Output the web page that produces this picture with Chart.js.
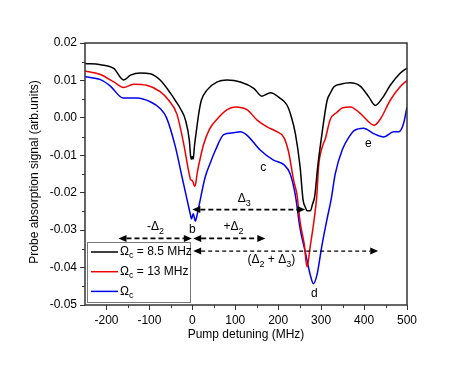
<!DOCTYPE html>
<html><head><meta charset="utf-8">
<script src="https://cdn.jsdelivr.net/npm/chart.js@4/dist/chart.umd.min.js"></script>
<style>html,body{margin:0;padding:0;background:#fff;}canvas{display:block;}</style>
</head><body>
<canvas id="c" width="474" height="366"></canvas>
<script>
// ---- data ----
const blackX = [-250,-214,-183,-160,-144,-121,-98,-75,-51,-40,-28,-16,-7,-4,-2,0,2,5,10,15,21,34,58,81,112,143,162,182,205,220,230,240,251,258,263,267,275,280,285,292,302,314,321,330,345,368,391,411,426,442,461,484,500];
const blackY = [0.0145,0.0142,0.0132,0.0101,0.0114,0.0120,0.0118,0.0101,0.0066,0.0047,0.0025,-0.0006,-0.0060,-0.0102,-0.0110,-0.0103,-0.0110,-0.0075,-0.0030,0.0012,0.0047,0.0074,0.0096,0.0101,0.0096,0.0079,0.0058,0.0067,0.0052,0.0035,0.0005,-0.0042,-0.0131,-0.0220,-0.0238,-0.0248,-0.0248,-0.0230,-0.0210,-0.0131,-0.0042,0.0047,0.0065,0.0083,0.0090,0.0094,0.0085,0.0056,0.0033,0.0052,0.0087,0.0119,0.0133];
const redX = [-250,-214,-183,-160,-137,-106,-75,-55,-36,-20,-9,-4,-1,2,5,8,11,20,26,40,58,81,100,127,151,174,197,213,224,236,244,251,261,267,275,283,290,294,302,310,321,337,350,368,391,415,423,438,461,484,500];
const redY = [0.0125,0.0116,0.0096,0.0081,0.0090,0.0087,0.0070,0.0047,0.0010,-0.0070,-0.0140,-0.0165,-0.0167,-0.0172,-0.0183,-0.0175,-0.0150,-0.0100,-0.0072,-0.0030,-0.0003,0.0022,0.0029,0.0022,-0.0006,-0.0024,-0.0037,-0.0052,-0.0090,-0.0167,-0.0207,-0.0278,-0.0340,-0.0398,-0.0340,-0.0278,-0.0207,-0.0131,-0.0080,-0.0055,-0.0005,0.0015,0.0027,0.0029,0.0012,-0.0015,-0.0020,-0.0003,0.0047,0.0083,0.0100];
const blueX = [-250,-214,-191,-161,-129,-98,-75,-60,-40,-24,-12,-5,-2,2,7,11,15,30,42,54,73,96,112,127,158,189,213,228,240,251,263,275,282,290,302,314,323,333,349,368,376,399,422,446,469,481,492,500];
const blueY = [0.0110,0.0102,0.0085,0.0053,0.0053,0.0043,0.0025,0.0000,-0.0075,-0.0158,-0.0220,-0.0256,-0.0270,-0.0256,-0.0276,-0.0260,-0.0238,-0.0158,-0.0120,-0.0086,-0.0045,-0.0040,-0.0037,-0.0046,-0.0086,-0.0113,-0.0125,-0.0150,-0.0207,-0.0296,-0.0358,-0.0421,-0.0443,-0.0421,-0.0340,-0.0269,-0.0220,-0.0149,-0.0086,-0.0046,-0.0035,-0.0028,-0.0042,-0.0051,-0.0037,-0.0037,-0.0015,0.0029];
const seriesLabels = ['Ω_c = 8.5 MHz','Ω_c = 13 MHz','Ω_c'];
const xTickValues = [-200,-100,0,100,200,300,400,500];
const yTickValues = [0.02,0.01,0,-0.01,-0.02,-0.03,-0.04,-0.05];
const xMinorTicks = [-150,-50,50,150,250,350,450];
const yMinorTicks = [0.015,0.005,-0.005,-0.015,-0.025,-0.035,-0.045];
const xTitle = 'Pump detuning (MHz)';
const yTitle = 'Probe absorption signal (arb.units)';
// annotation arrows (data coordinates)
const arrowFrom = [0,-172,2,2];
const arrowTo = [263,-1,170,433];
const arrowY = [-0.0245,-0.0322,-0.0322,-0.0356];
const arrowText = ['Δ_3','-Δ_2','+Δ_2','(Δ_2 + Δ_3)'];
const arrowTextX = [121,-86,96,184];
const arrowTextY = [-0.0217,-0.0292,-0.0292,-0.0380];
const pointText = ['b','c','d','e'];
const pointTextX = [0,165,284,410];
const pointTextY = [-0.0298,-0.0134,-0.0469,-0.0068];

const FONT = '"Liberation Sans", Arial, sans-serif';
const colors = ['#000000','#ee0000','#0000ee'];

function toPts(xs, ys){ return xs.map((x,i)=>({x:x, y:ys[i]})); }

// rich text: '_' marks next char as subscript
function parseRich(s){
  const parts=[]; let buf='';
  for(let i=0;i<s.length;i++){
    if(s[i]==='_' && i+1<s.length){ if(buf){parts.push([buf,false]);buf='';} parts.push([s[i+1],true]); i++; }
    else buf+=s[i];
  }
  if(buf) parts.push([buf,false]);
  return parts;
}
function richWidth(ctx, parts, size){
  let w=0;
  parts.forEach(p=>{ ctx.font=(p[1]?Math.round(size*0.75):size)+'px '+FONT; w+=ctx.measureText(p[0]).width; });
  return w;
}
function drawRich(ctx, s, x, y, size, align){
  const parts=parseRich(s);
  const w=richWidth(ctx,parts,size);
  let cx = align==='center' ? x-w/2 : x;
  ctx.textBaseline='middle'; ctx.textAlign='left';
  parts.forEach(p=>{
    ctx.font=(p[1]?Math.round(size*0.75):size)+'px '+FONT;
    ctx.fillText(p[0], cx, p[1]? y+4 : y);
    cx+=ctx.measureText(p[0]).width;
  });
}

const annotPlugin = {
  id:'annot',
  afterDraw(chart){
    const ctx=chart.ctx, a=chart.chartArea, xs=chart.scales.x, ys=chart.scales.y;
    ctx.save();
    // frame
    ctx.strokeStyle='#333'; ctx.lineWidth=1.5; ctx.setLineDash([]);
    ctx.strokeRect(a.left,a.top,a.right-a.left,a.bottom-a.top);
    // minor ticks
    ctx.lineWidth=1;
    ctx.beginPath();
    xMinorTicks.forEach(v=>{const p=Math.round(xs.getPixelForValue(v))+0.5; ctx.moveTo(p,a.bottom); ctx.lineTo(p,a.bottom+3);});
    yMinorTicks.forEach(v=>{const p=Math.round(ys.getPixelForValue(v))+0.5; ctx.moveTo(a.left,p); ctx.lineTo(a.left-3,p);});
    ctx.stroke();
    // arrows
    ctx.fillStyle='#000'; ctx.strokeStyle='#000';
    for(let i=0;i<arrowFrom.length;i++){
      const x1=xs.getPixelForValue(Math.min(arrowFrom[i],arrowTo[i]));
      const x2=xs.getPixelForValue(Math.max(arrowFrom[i],arrowTo[i]));
      const py=ys.getPixelForValue(arrowY[i]);
      const thin = i===3;
      const hl=8, hw=3.5;
      ctx.lineWidth = thin?1.1:1.7;
      ctx.setLineDash(thin?[4,3]:[5,3]);
      ctx.beginPath(); ctx.moveTo(x1+hl,py); ctx.lineTo(x2-hl,py); ctx.stroke();
      ctx.setLineDash([]);
      ctx.beginPath(); ctx.moveTo(x1,py); ctx.lineTo(x1+hl,py-hw); ctx.lineTo(x1+hl,py+hw); ctx.closePath(); ctx.fill();
      ctx.beginPath(); ctx.moveTo(x2,py); ctx.lineTo(x2-hl,py-hw); ctx.lineTo(x2-hl,py+hw); ctx.closePath(); ctx.fill();
      drawRich(ctx, arrowText[i], xs.getPixelForValue(arrowTextX[i]), ys.getPixelForValue(arrowTextY[i]), 12, 'center');
    }
    for(let i=0;i<pointText.length;i++){
      drawRich(ctx, pointText[i], xs.getPixelForValue(pointTextX[i]), ys.getPixelForValue(pointTextY[i]), 12, 'center');
    }
    // legend box
    const lx=a.left+2, ly=a.bottom-63, lw=103, lh=60;
    ctx.fillStyle='#fff'; ctx.fillRect(lx,ly,lw,lh);
    ctx.strokeStyle='#777'; ctx.lineWidth=1; ctx.strokeRect(lx+0.5,ly+0.5,lw,lh);
    chart.data.datasets.forEach((ds,i)=>{
      const yy=ly+10+i*19.7;
      ctx.strokeStyle=ds.borderColor; ctx.lineWidth=1.5;
      ctx.beginPath(); ctx.moveTo(lx+4,yy); ctx.lineTo(lx+31,yy); ctx.stroke();
      ctx.fillStyle='#000';
      drawRich(ctx, seriesLabels[i], lx+33, yy, 12, 'left');
    });
    // axis titles
    ctx.fillStyle='#000'; ctx.font='12px '+FONT; ctx.textAlign='center'; ctx.textBaseline='middle';
    ctx.fillText(xTitle, (a.left+a.right)/2, 335);
    ctx.save(); ctx.translate(35,(a.top+a.bottom)/2-2); ctx.rotate(-Math.PI/2);
    ctx.fillText(yTitle,0,0); ctx.restore();
    ctx.restore();
  }
};

new Chart(document.getElementById('c'), {
  type:'line',
  data:{ datasets:[
    {label:seriesLabels[0], data:toPts(blackX,blackY), borderColor:colors[0]},
    {label:seriesLabels[1], data:toPts(redX,redY), borderColor:colors[1]},
    {label:seriesLabels[2], data:toPts(blueX,blueY), borderColor:colors[2]}
  ].map(d=>Object.assign(d,{borderWidth:1.5,pointRadius:0,fill:false,cubicInterpolationMode:'monotone'}))},
  options:{
    responsive:false, animation:false, devicePixelRatio:1,
    layout:{padding:{left:0,top:43,right:67,bottom:0}},
    plugins:{legend:{display:false}, tooltip:{enabled:false}},
    scales:{
      x:{type:'linear', min:-250, max:500,
        afterBuildTicks:s=>{s.ticks=xTickValues.map(v=>({value:v}));},
        afterFit:s=>{s.height=61;},
        grid:{drawOnChartArea:false, drawTicks:true, tickLength:5, color:'#333', lineWidth:1},
        border:{display:false},
        ticks:{color:'#000', font:{family:FONT,size:12}, padding:3, maxRotation:0, callback:v=>String(v)}},
      y:{type:'linear', min:-0.05, max:0.02,
        afterBuildTicks:s=>{s.ticks=yTickValues.map(v=>({value:v}));},
        afterFit:s=>{s.width=85;},
        grid:{drawOnChartArea:false, drawTicks:true, tickLength:5, color:'#333', lineWidth:1},
        border:{display:false},
        ticks:{color:'#000', font:{family:FONT,size:12}, padding:3, callback:v=>v.toFixed(2)}}
    }
  },
  plugins:[annotPlugin]
});
</script>
</body></html>
